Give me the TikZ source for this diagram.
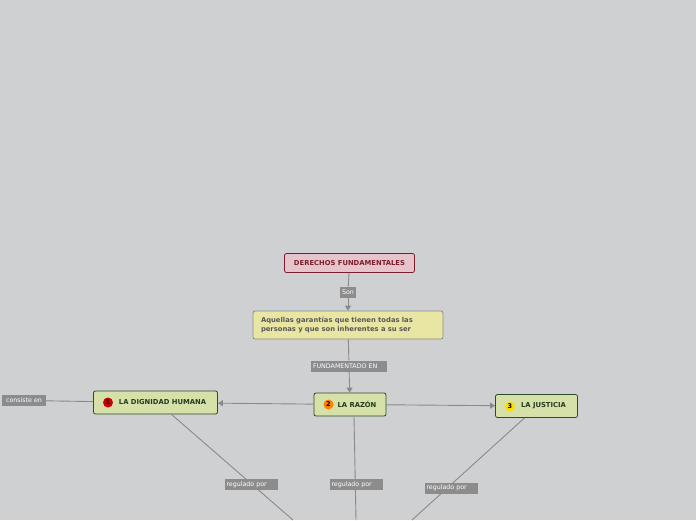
\documentclass[tikz,border=0pt]{standalone}
\usepackage{fontspec}
\setmainfont{DejaVu Sans}
\usetikzlibrary{arrows.meta}
\definecolor{bg}{HTML}{CFD0D2}
\definecolor{lbl}{HTML}{8C8C8C}
\definecolor{ln}{HTML}{8A8A8A}
\definecolor{gfill}{HTML}{D5E1A8}
\definecolor{gline}{HTML}{2E4A2A}
\definecolor{yfill}{HTML}{E9E5A2}
\definecolor{pfill}{HTML}{E6C4CC}
\definecolor{pline}{HTML}{7A1E2E}
\tikzset{
  box/.style={draw, rounded corners=2pt, line width=0.8pt, inner sep=0pt, font=\bfseries\fontsize{6.8}{8.5}\selectfont},
  greenbox/.style={box, draw=gline, fill=gfill, text=gline!80!black},
  lab/.style={fill=lbl, text=white, font=\fontsize{6.3}{7}\selectfont, inner sep=2pt, minimum height=11pt},
  con/.style={draw=ln, line width=0.9pt},
  arr/.style={con, -{Triangle[length=5pt,width=6pt]}},
  badge/.style={circle, inner sep=0pt, minimum size=10pt, text=black, font=\bfseries\fontsize{6.5}{6.5}\selectfont}
}
\begin{document}
\begin{tikzpicture}[x=1pt,y=-1pt]
\fill[bg] (0,0) rectangle (696,520);
\useasboundingbox (0,0) rectangle (696,520);
\node[box, draw=pline, fill=pfill, text=pline, minimum width=130pt, minimum height=19pt] (df) at (349.5,263) {DERECHOS FUNDAMENTALES};
\node[box, draw=black!45, fill=yfill, text=black!65, minimum width=190pt, minimum height=28pt, align=left, text width=174pt] (aq) at (348,325) {Aquellas garantías que tienen todas las\\personas y que son inherentes a su ser};
\node[greenbox, minimum width=124pt, minimum height=23pt] (dh) at (155.5,402.5) {\hspace{14pt}LA DIGNIDAD HUMANA};
\node[badge, fill=red!80!black] at (108,402.5) {1};
\node[greenbox, minimum width=72pt, minimum height=23pt] (ra) at (350,404.5) {\hspace{14pt}LA RAZÓN};
\node[badge, fill=orange] at (328.5,404.5) {2};
\node[greenbox, minimum width=82pt, minimum height=23pt] (ju) at (536.5,406) {\hspace{14pt}LA JUSTICIA};
\node[badge, fill=yellow!80!orange] at (510,406.5) {3};
\node[lab] (son) at (348,292) {Son};
\node[lab, minimum width=76pt, align=left, text width=72pt] (fe) at (349,366) {FUNDAMENTADO EN};
\node[lab, minimum width=44pt] (ce) at (24,400.5) {consiste en};
\coordinate (b1) at (293,520);
\coordinate (b2) at (356,520);
\coordinate (b3) at (412,520);
\draw[con] (df) -- (son);
\draw[arr] (son) -- (aq);
\draw[con] (aq) -- (fe);
\draw[arr] (fe) -- (ra);
\draw[arr] (ra) -- (dh);
\draw[arr] (ra) -- (ju);
\draw[con] (dh) -- (ce);
\draw[con] (dh.south) ++(16,0) -- (b1);
\draw[con] (ra.south) ++(4,0) -- (b2);
\draw[con] (ju.south) ++(-12,0) -- (b3);
\node[lab, minimum width=53pt, text width=49pt, align=left] (r1) at (251,484.5) {regulado por};
\node[lab, minimum width=53pt, text width=49pt, align=left] (r2) at (356,484.5) {regulado por};
\node[lab, minimum width=53pt, text width=49pt, align=left] (r3) at (451,488) {regulado por};
\end{tikzpicture}
\end{document}
